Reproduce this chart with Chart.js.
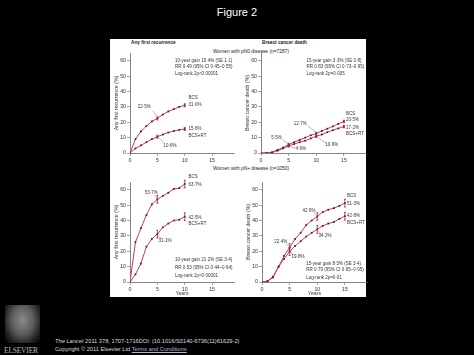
<!DOCTYPE html>
<html><head><meta charset="utf-8">
<script src="https://cdn.jsdelivr.net/npm/chart.js@4.4.0/dist/chart.umd.min.js"></script>
<style>
html,body{margin:0;padding:0;background:#000;width:474px;height:355px;overflow:hidden;font-family:'Liberation Sans',Arial,sans-serif;}
#title{position:absolute;left:0;top:6px;width:474px;text-align:center;color:#fff;font-size:11px;line-height:13px;}
#panel{position:absolute;left:110px;top:39px;width:256px;height:258px;background:#fff;}
canvas{position:absolute}
.h{position:absolute;font-family:'Liberation Sans Narrow','Liberation Sans',sans-serif;color:#222;white-space:nowrap;line-height:1;transform-origin:0 0;transform:scaleX(0.84)}
.b{font-weight:bold;font-size:5.6px}
.c{font-size:5.6px;transform-origin:50% 0;transform:translateX(-50%) scaleX(0.87);}
#cite{position:absolute;left:55px;top:338px;color:#ddd;font-size:5.7px;line-height:7.6px;white-space:nowrap}
#cite u{color:#aab4dd}
#logo{position:absolute;left:5px;top:305px;width:35px;height:38px;background:radial-gradient(ellipse at 50% 40%,#8a8a8a 0%,#5a5a5a 45%,#222 75%,#000 100%);}
#els{position:absolute;left:4px;top:346px;color:#bbb;font-family:'Liberation Serif',serif;font-size:7.5px;letter-spacing:-0.2px}
</style></head>
<body>
<div id="title">Figure 2</div>
<div id="panel"></div>
<div class="h b" style="left:131px;top:39.5px">Any first recurrence</div>
<div class="h b" style="left:262px;top:39.5px">Breast cancer death</div>
<div class="h c" style="left:251px;top:48.5px">Women with pN0 disease (n=7287)</div>
<div class="h c" style="left:251px;top:165.5px">Women with pN+ disease (n=1050)</div>
<canvas id="c1" width="135" height="117" style="left:111px;top:46px"></canvas>
<canvas id="c2" width="132" height="117" style="left:242px;top:46px"></canvas>
<canvas id="c3" width="135" height="127" style="left:111px;top:170px"></canvas>
<canvas id="c4" width="132" height="127" style="left:243px;top:170px"></canvas>
<div id="logo"></div>
<div id="els">ELSEVIER</div>
<div id="cite"><i>The Lancet</i> 2011 378, 1707-1716DOI: (10.1016/S0140-6736(11)61629-2)<br>Copyright © 2011 Elsevier Ltd <u>Terms and Conditions</u></div>
<script>
// ---- data ----
const years10 = [0,1,2,3,4,5,6,7,8,9,10];
const years15 = [0,1,2,3,4,5,6,7,8,9,10,11,12,13,14,15];
const recurN0_BCS   = [0, 9, 14, 17.5, 20.5, 22.5, 25, 27, 28.5, 30, 31.0];
const recurN0_BCSRT = [0, 3, 5, 7, 9, 10.6, 12, 13.3, 14.3, 15, 15.6];
const deathN0_BCS   = [0, 0, 0.5, 2, 3.5, 5.5, 7, 8.5, 10, 11.5, 12.7, 14.3, 15.8, 17.3, 19, 20.5];
const deathN0_BCSRT = [0, 0, 0.3, 1.5, 3, 4.6, 5.8, 7, 8, 9.5, 10.9, 12, 13.5, 14.8, 16, 17.2];
const recurNp_BCS   = [0, 26, 35, 43.5, 50.5, 53.7, 56, 58, 60.5, 61, 63.7];
const recurNp_BCSRT = [0, 5, 12, 23, 28, 31.1, 35.5, 38, 40, 40.5, 42.5];
const deathNp_BCS   = [0, 0.5, 3, 10, 17, 22.4, 28, 32, 37, 40, 42.6, 45.5, 47, 48, 49.5, 51.3];
const deathNp_BCSRT = [0, 0.5, 3.5, 10, 15, 19.8, 23.5, 26.5, 29.5, 32, 34.2, 36.5, 38, 39, 41, 42.8];
const yTicks = [0,10,20,30,40,50,60];
const xTicks = [0,5,10,15];

const NARROW = "'Liberation Sans Narrow','Liberation Sans',sans-serif";
const LINE = '#c23a6e', DOT = '#5a0d2c', AXIS = '#666', TXT = '#333';

const annot = {
  id:'annot',
  afterDatasetsDraw(chart, args, o){
    const {ctx, scales:{x,y}} = chart;
    ctx.save();
    ctx.strokeStyle = '#a0204e'; ctx.lineWidth = 0.8;
    (o.err||[]).forEach(e=>{
      chart.data.datasets.forEach(ds=>{
        const p = ds.data.find(d=>d.x===e.x); if(!p) return;
        const px = x.getPixelForValue(p.x), y1 = y.getPixelForValue(p.y-e.h), y2 = y.getPixelForValue(p.y+e.h);
        ctx.beginPath(); ctx.moveTo(px,y1); ctx.lineTo(px,y2);
        ctx.moveTo(px-1,y1); ctx.lineTo(px+1,y1); ctx.moveTo(px-1,y2); ctx.lineTo(px+1,y2); ctx.stroke();
      });
    });
    ctx.strokeStyle = '#777'; ctx.lineWidth = 0.5;
    (o.leaders||[]).forEach(l=>{
      ctx.beginPath(); ctx.moveTo(x.getPixelForValue(l[0]), y.getPixelForValue(l[1]));
      ctx.lineTo(x.getPixelForValue(l[2]), y.getPixelForValue(l[3])); ctx.stroke();
    });
    ctx.fillStyle = TXT; ctx.font = '5.3px ' + NARROW; ctx.textBaseline = 'middle';
    (o.labels||[]).forEach(l=>{
      ctx.save();
      ctx.translate(x.getPixelForValue(l[1]), y.getPixelForValue(l[2]));
      ctx.scale(0.85,1);
      ctx.textAlign = l[3]||'left';
      ctx.fillText(l[0], 0, 0);
      ctx.restore();
    });
    ctx.restore();
  }
};

function build(id, xs, s1, s2, yTitle, showYears, padTop, padRight, xH, an){
  const font = {family: NARROW, size: 5.2};
  const mk = s => xs.map((v,i)=>({x:v, y:s[i]}));
  const ds = s => ({data: mk(s), borderColor: LINE, borderWidth: 1, pointStyle:'rect', pointRadius:1.2,
    pointBackgroundColor: DOT, pointBorderWidth:0, tension:0});
  new Chart(document.getElementById(id), {
    type:'line',
    data:{datasets:[ds(s1), ds(s2)]},
    plugins:[annot],
    options:{
      responsive:false, animation:false, devicePixelRatio:1,
      layout:{padding:{top:padTop, right:padRight, left:0, bottom:0}},
      plugins:{legend:{display:false}, tooltip:{enabled:false}, annot: an},
      scales:{
        x:{type:'linear', min:0, max:19,
          afterBuildTicks: s=>{ s.ticks = xTicks.map(v=>({value:v})); },
          afterFit: s=>{ s.height = xH; },
          ticks:{font, color:TXT, padding:1, maxRotation:0, autoSkip:false},
          grid:{drawOnChartArea:false, tickLength:3, color:AXIS, lineWidth:0.6},
          border:{color:AXIS, width:0.8},
          title:{display:showYears, text:'Years', font, color:TXT, padding:0}},
        y:{type:'linear', min:0, max:65,
          afterBuildTicks: s=>{ s.ticks = yTicks.map(v=>({value:v})); },
          afterFit: s=>{ s.width = 19; },
          ticks:{font, color:TXT, padding:1},
          grid:{drawOnChartArea:false, tickLength:3, color:AXIS, lineWidth:0.6},
          border:{color:AXIS, width:0.8},
          title:{display:true, text:yTitle, font, color:TXT, padding:{top:2,bottom:0}}}
      }
    }
  });
}

build('c1', years10, recurN0_BCS, recurN0_BCSRT, 'Any first recurrence (%)', false, 7, 12, 10, {
  err:[{x:5,h:1},{x:10,h:1}],
  leaders:[[4.2,27.5,5,23.3],[5.3,10,6.2,6.3]],
  labels:[['22·5%',2.6,30,'center'],['10·6%',7.3,4.8,'center'],
    ['BCS',10.7,36],['31·0%',10.7,31.3],['15·6%',10.7,15.6],['BCS+RT',10.7,11.3],
    ['10-year gain 15·4% (SE 1·1)',8.2,60.2],['RR 0·49 (95% CI 0·45–0·55)',8.2,55.9],['Log-rank 2p<0·00001',8.2,51.5]]
});
build('c2', years15, deathN0_BCS, deathN0_BCSRT, 'Breast cancer death (%)', false, 7, 8, 10, {
  err:[{x:5,h:0.8},{x:10,h:0.8},{x:15,h:0.8}],
  leaders:[[8.5,17.5,10,13.3],[3.9,8.8,4.9,6.1],[5.2,4.2,6.2,3.3],[10.2,10.2,11.8,6.3]],
  labels:[['12·7%',7.1,18.9,'center'],['5·5%',2.8,10,'center'],['4·6%',7.2,3.1,'center'],['10·9%',12.8,5.2,'center'],
    ['BCS',15.4,25.9],['20·5%',15.4,21.5],['17·2%',15.4,16.8],['BCS+RT',15.4,12.8],
    ['15-year gain 3·3% (SE 0·8)',8.25,60.2],['RR 0·83 (95% CI 0·73–0·95)',8.25,55.9],['Log-rank 2p=0·005',8.25,51.5]]
});
build('c3', years10, recurNp_BCS, recurNp_BCSRT, 'Any first recurrence (%)', true, 12, 12, 15, {
  err:[{x:5,h:2.5},{x:10,h:2.5}],
  leaders:[[4.4,56.5,5,54.5],[5.1,30,5.8,28.3]],
  labels:[['53·7%',3.9,57.9,'center'],['31·1%',6.4,27,'center'],
    ['BCS',10.7,68.7],['63·7%',10.7,63.3],['42·5%',10.7,42.2],['BCS+RT',10.7,38.3],
    ['10-year gain 21·2% (SE 3·4)',8.2,14.4],['RR 0·53 (95% CI 0·44–0·64)',8.2,9.4],['Log-rank 2p<0·00001',8.2,4.4]]
});
build('c4', years15, deathNp_BCS, deathNp_BCSRT, 'Breast cancer death (%)', true, 12, 8, 15, {
  err:[{x:5,h:2.5},{x:10,h:2.5},{x:15,h:2.5}],
  leaders:[[9.3,45,10,43.5],[4.3,25,5,23],[5.1,19,5.8,17.5],[10.1,33.5,10.8,31]],
  labels:[['42·6%',8.5,46.5,'center'],['22·4%',3.4,26.3,'center'],['19·8%',6.5,16.5,'center'],['34·2%',11.4,30,'center'],
    ['BCS',15.4,56.1],['51·3%',15.4,51.3],['42·8%',15.4,43],['BCS+RT',15.4,38.7],
    ['15-year gain 8·5% (SE 3·4)',8,12.2],['RR 0·79 (95% CI 0·65–0·95)',8,7.8],['Log-rank 2p=0·01',8,3.1]]
});
</script>
</body></html>
